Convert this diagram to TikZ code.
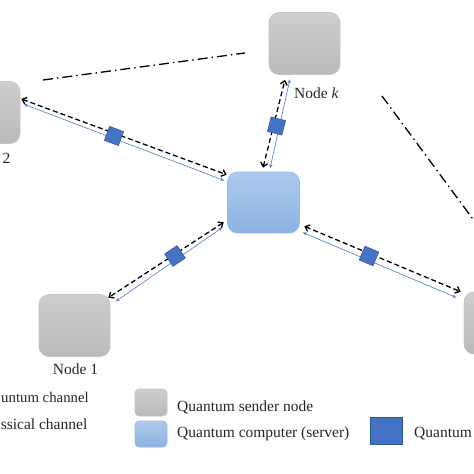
\documentclass[tikz,border=0pt]{standalone}
\usepackage{fontspec}
\setmainfont{Liberation Serif}
\usetikzlibrary{arrows.meta}
\definecolor{grayTop}{RGB}{206,206,206}
\definecolor{grayBot}{RGB}{186,186,186}
\definecolor{grayEdge}{RGB}{196,196,196}
\definecolor{blueTop}{RGB}{174,202,237}
\definecolor{blueBot}{RGB}{140,178,224}
\definecolor{blueEdge}{RGB}{150,186,229}
\definecolor{qline}{RGB}{95,135,200}
\definecolor{repFill}{RGB}{68,114,196}
\definecolor{repEdge}{RGB}{47,85,151}
\begin{document}
\begin{tikzpicture}[x=1pt,y=-1pt,
  sender/.style={rectangle, rounded corners=10pt, minimum width=71pt, minimum height=62pt,
    top color=grayTop, bottom color=grayBot, draw=grayEdge, line width=0.6pt, inner sep=0pt},
  server/.style={rectangle, rounded corners=10pt, minimum width=72pt, minimum height=61pt,
    top color=blueTop, bottom color=blueBot, draw=blueEdge, line width=0.6pt, inner sep=0pt},
  legsender/.style={sender, rounded corners=4pt, minimum width=32pt, minimum height=27pt},
  legserver/.style={server, rounded corners=4pt, minimum width=32pt, minimum height=26pt},
  repeater/.style={rectangle, minimum size=15pt, fill=repFill, draw=repEdge, line width=0.5pt, inner sep=0pt},
  legrepeater/.style={repeater, minimum width=32pt, minimum height=27pt},
  classic/.style={black, line width=1.3pt, dash pattern=on 5pt off 3pt,
    {Straight Barb[length=4pt,width=7pt]}-{Straight Barb[length=4pt,width=7pt]}},
  quantum/.style={qline, line width=0.7pt,
    {Latex[length=4pt,width=3.5pt]}-{Latex[length=4pt,width=3.5pt]}},
  dashdot/.style={black, line width=1.3pt, dash pattern=on 10pt off 4pt on 1.5pt off 4pt},
  lbl/.style={font=\fontsize{15.5}{18}\selectfont, inner sep=0pt, text=black!85}
]
\useasboundingbox (0,0) rectangle (474,474);
\clip (0,0) rectangle (474,474);

% nodes
\node[sender] (n2) at (-15.5,112.5) {};
\node[sender] (nk) at (304.5,43.5) {};
\node[server] (srv) at (263.5,202.5) {};
\node[sender] (n1) at (74.5,325.5) {};
\node[sender] (nr) at (499.5,323) {};

% labels (as far as the picture shows them)
\node[lbl, anchor=base east] (l2) at (10.5,163) {2};
\node[lbl, anchor=base west] (lk) at (294,98) {Node \textit{k}};
\node[lbl, anchor=base] (l1) at (75.5,374) {Node 1};

% dash-dot lines
\coordinate (d1a) at (43,80);
\coordinate (d1b) at (245,53);
\coordinate (d2a) at (382,96);
\coordinate (d2b) at (478,226);
\draw[dashdot] (d1a) -- (d1b);
\draw[dashdot] (d2a) -- (d2b);

% links: node 2
\draw[classic] ([shift={(1,-13.5)}]n2.east) -- ([shift={(-0.5,3)}]srv.north west);
\draw[quantum] ([shift={(3,-8.5)}]n2.east) -- ([shift={(-2.5,9)}]srv.north west);
% node k
\draw[classic] ([shift={(-0.5,-4)}]srv.north) -- ([shift={(-19.5,5)}]nk.south);
\draw[quantum] ([shift={(6.5,-3)}]srv.north) -- ([shift={(-14.5,4)}]nk.south);
% node 1
\draw[classic] ([shift={(-3.5,-11)}]srv.south west) -- ([shift={(-2,3.5)}]n1.north east);
\draw[quantum] ([shift={(-4.5,-6)}]srv.south west) -- ([shift={(5,7.5)}]n1.north east);
% right node
\draw[classic] ([shift={(4.5,-7)}]srv.south east) -- ([shift={(-3,0)}]nr.north west);
\draw[quantum] ([shift={(2.5,-1)}]srv.south east) -- ([shift={(-7,6)}]nr.north west);

% repeaters
\node[repeater, rotate=-20.4] (r2) at (114,136) {};
\node[repeater, rotate=75.8] (rk) at (276.5,126) {};
\node[repeater, rotate=33.7] (r1) at (175,256) {};
\node[repeater, rotate=-22.8] (rr) at (369,256) {};

% legend
\node[lbl, font=\fontsize{14.8}{18}\selectfont, anchor=base west] (lq) at (1,402) {untum channel};
\node[lbl, anchor=base east] (lc) at (87.5,429) {ssical channel};
\node[legsender] (gs) at (151,402.5) {};
\node[lbl, anchor=base west] (gst) at (177,411) {Quantum sender node};
\node[legserver] (gv) at (151,434) {};
\node[lbl, anchor=base west] (gvt) at (177,437) {Quantum computer (server)};
\node[legrepeater] (gr) at (386,430.5) {};
\node[lbl, anchor=base west] (grt) at (414,437) {Quantum};
\end{tikzpicture}
\end{document}
